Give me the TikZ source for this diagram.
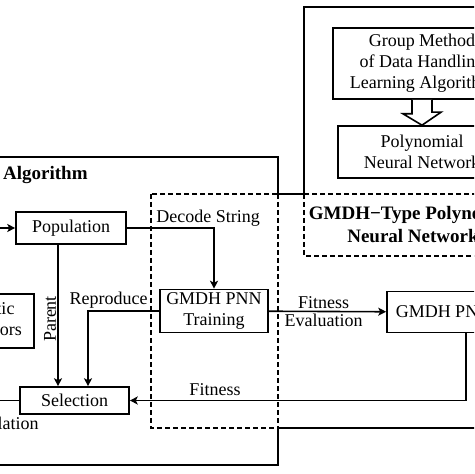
\documentclass[tikz,border=0pt]{standalone}
\usepackage{fontspec}
\setmainfont{Liberation Serif}
\usetikzlibrary{arrows.meta}

\begin{document}
\begin{tikzpicture}%
[x=.5pt,y=-.5pt,>={Stealth[length=4pt,width=4pt,inset=1pt]},%
box/.style={draw, thick, align=center, inner sep=0pt, font=\fontsize{9}{10.5}\selectfont},%
lbl/.style={inner sep=0pt, align=center, font=\fontsize{9}{9}\selectfont},%
ttl/.style={inner sep=0pt, align=center, font=\fontsize{9.5}{11.5}\selectfont\bfseries},%
frame/.style={line width=1pt},%
dashframe/.style={line width=1pt, dash pattern=on 2.5pt off 1.5pt}]

\useasboundingbox (0,0) rectangle (474,474);
\clip (0,0) rectangle (474,474);

% frames
\draw[dashframe] (151,194) rectangle (500,428);
\draw[dashframe] (278,194) -- (278,428);
\draw[dashframe] (304,194) -- (304,256) -- (500,256);
\draw[frame] (-20,157) -- (278,157) -- (278,194) -- (304,194) -- (304,7) -- (500,7);
\draw[frame] (-20,465) -- (278,465) -- (278,428) -- (500,428);

\node[box, minimum width=89pt, minimum height=35.5pt] (gmdh) at (422,63.5) {Group Method\\of Data Handling\\Learning Algorithm};
\node[box, minimum width=84pt, minimum height=26pt] (poly) at (422,152) {Polynomial\\Neural Network};
\draw[thick, fill=white] ([xshift=-5pt]gmdh.south) -- ++(0,14) -- ++(-9,0) -- (poly.north)
  -- ++(19,-13) -- ++(-9,0) -- ([xshift=5pt]gmdh.south);

\node[ttl] (gmdhlbl) at (413,224.5) {GMDH−Type Polynomial\\Neural Network};
\node[ttl, anchor=east] (galbl) at (88,175) {Genetic Algorithm};

\node[box, minimum width=55pt, minimum height=16pt] (pop) at (71,228) {Population};
\node[box, minimum width=47.5pt, minimum height=27pt] (ops) at (-13.5,321) {Genetic\\Operators};
\node[box, minimum width=54.5pt, minimum height=13.5pt] (sel) at (74.5,400.5) {Selection};
\node[box, minimum width=54pt, minimum height=21.5pt] (train) at (214,311) {GMDH PNN\\Training};
\node[box, minimum width=56.5pt, minimum height=20.5pt] (pnn) at (443.5,312) {GMDH PNN};

\coordinate (in) at (-20,228);
\coordinate (out) at (-20,400.5);
\coordinate (pa) at (58,0);
\coordinate (rp) at (88,0);
\coordinate (fb) at (466,0);

\draw[thick,->] (in) -- (pop);
\draw[thick,->] (pop) -| (train);
\draw[thick,->] (pop.south -| pa) -- (sel.north -| pa);
\draw[thick,->] (train.west) -| (rp |- sel.north);
\draw[thick,->] (train) -- node[lbl, xshift=-2pt] {Fitness\\Evaluation} (pnn);
\draw[thick,->] (pnn.south -| fb) |- (sel);
\draw[thick] (sel) -- (out);

\node[lbl, anchor=west] (dec) at (156,218) {Decode String};
\node[lbl, anchor=east] (rep) at (148,300) {Reproduce};
\node[lbl, rotate=90] (par) at (50,319) {Parent};
\node[lbl] (fit) at (215,390) {Fitness};
\node[lbl, anchor=east] (nxt) at (39,425) {Population};
\end{tikzpicture}
\end{document}
